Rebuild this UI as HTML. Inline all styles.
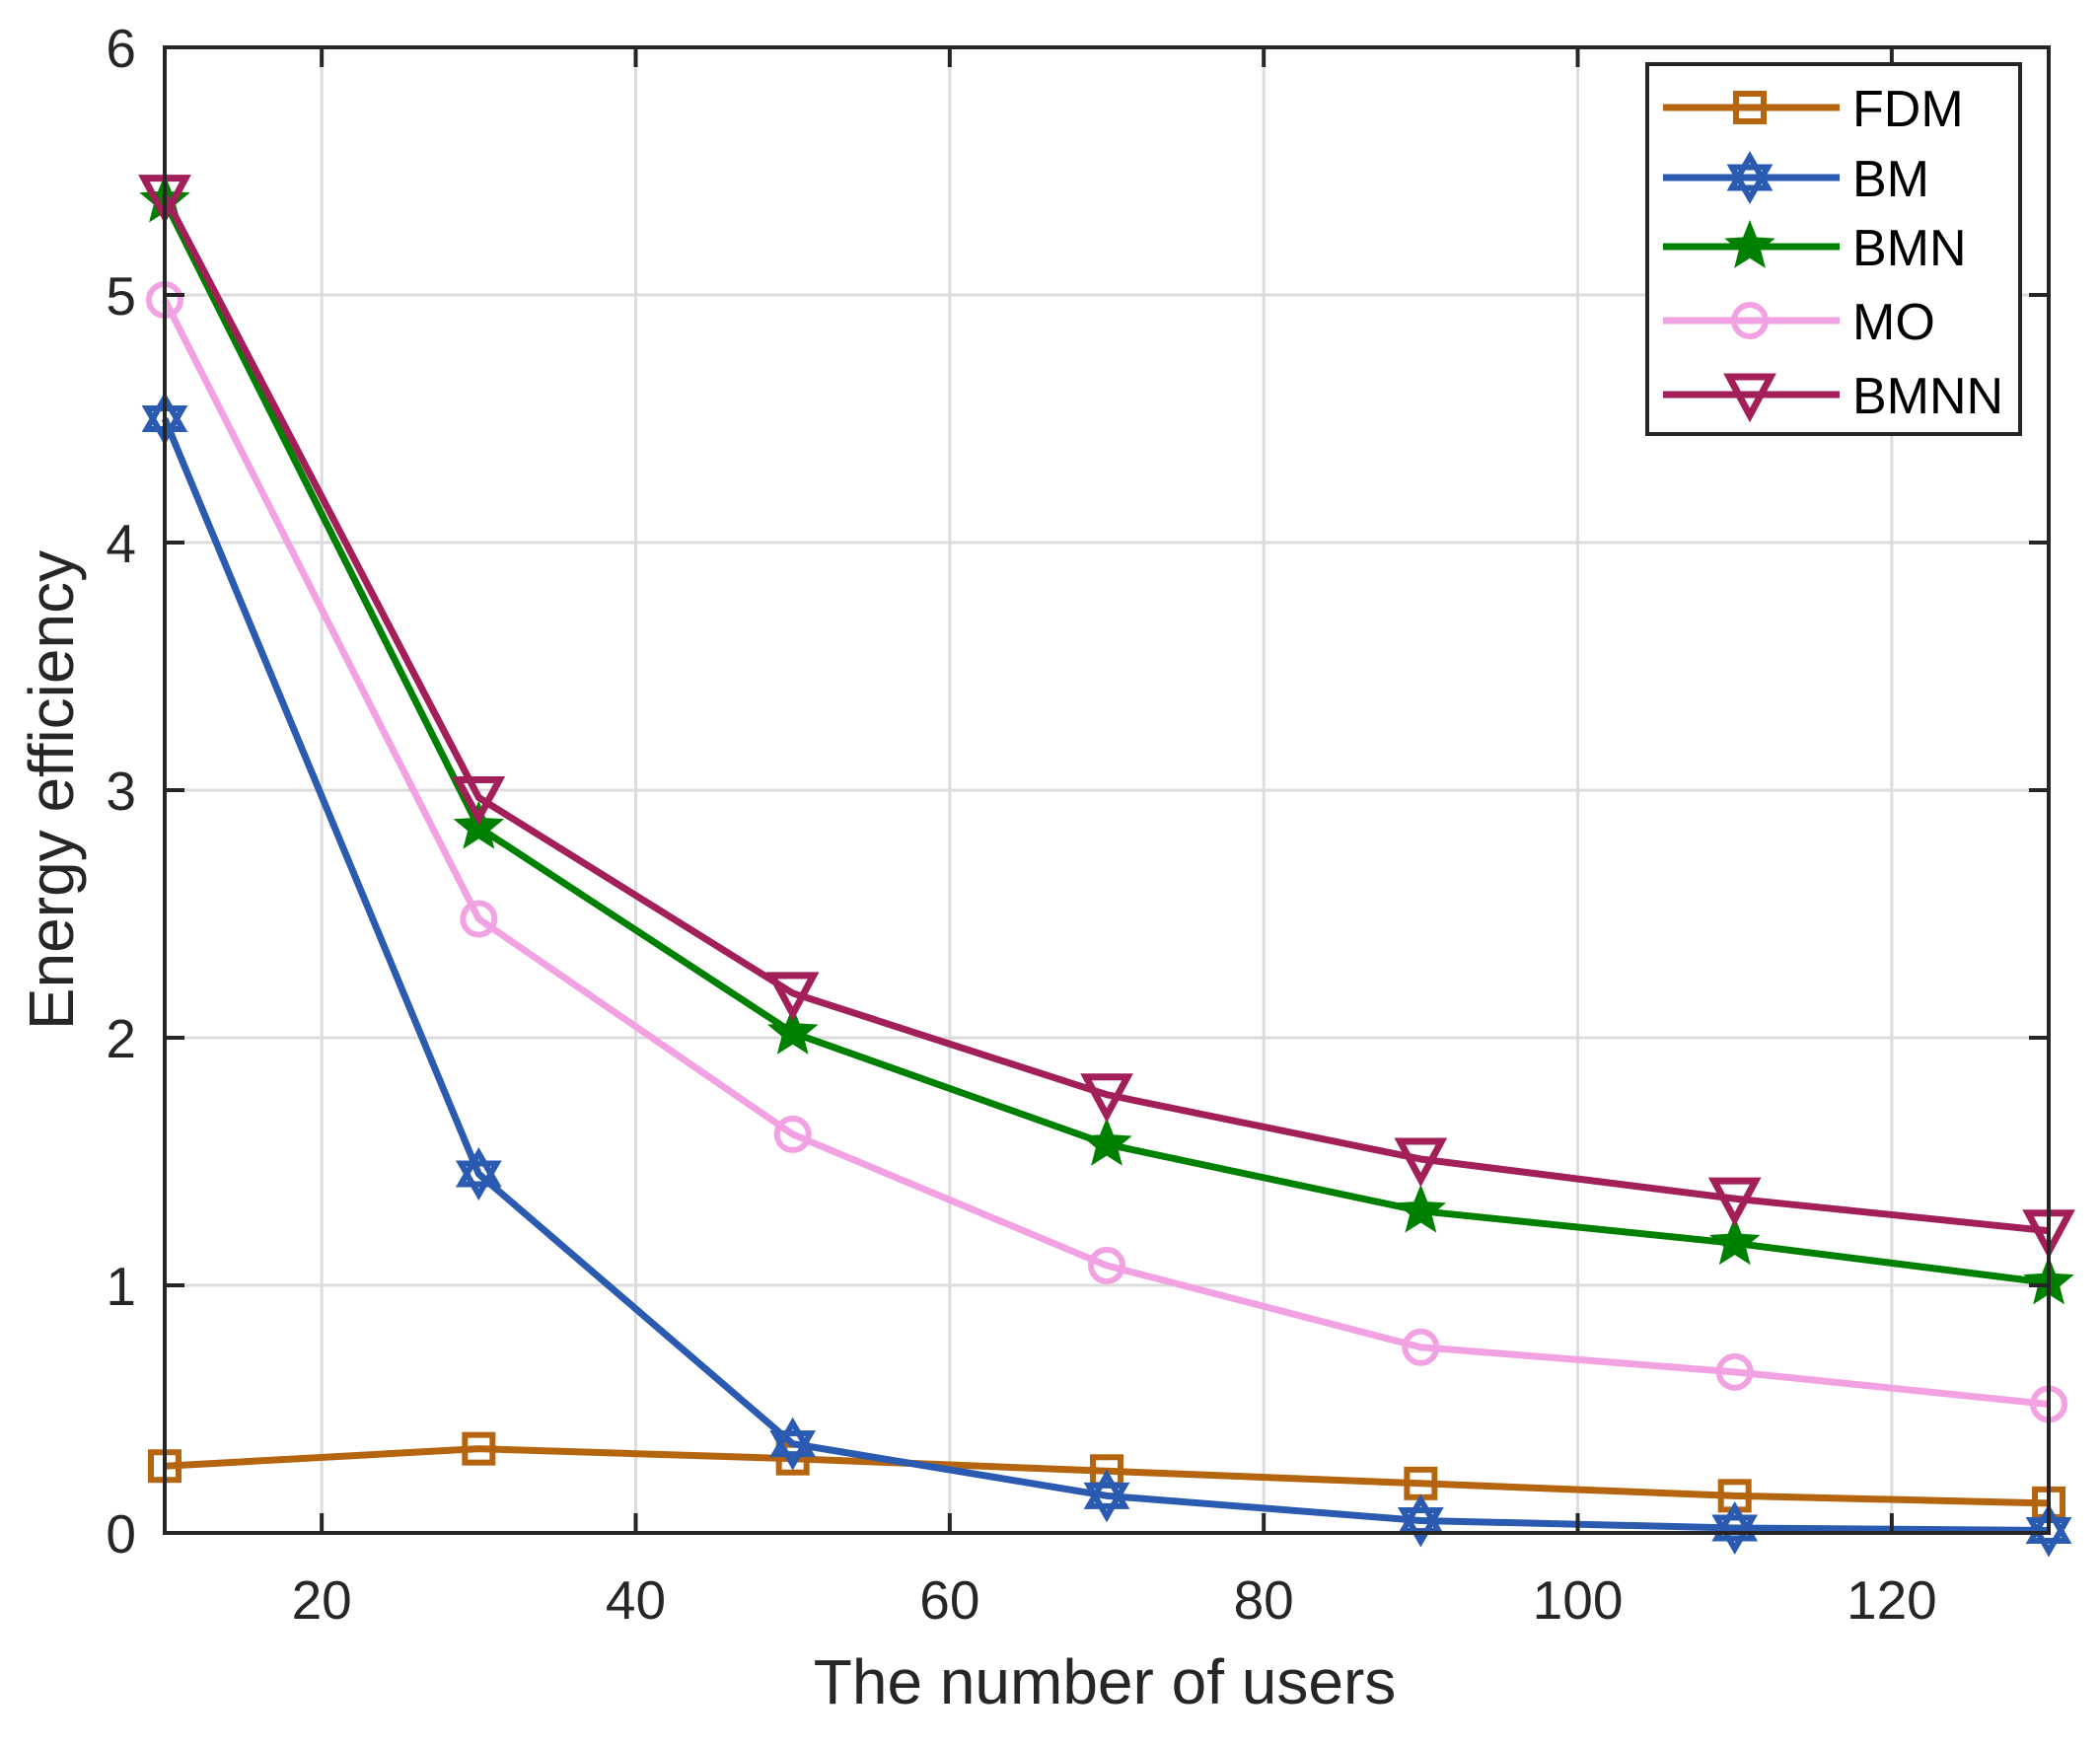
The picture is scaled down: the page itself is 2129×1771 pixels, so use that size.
<!DOCTYPE html>
<html><head><meta charset="utf-8"><style>html,body{margin:0;padding:0;background:#fff}</style></head>
<body>
<svg id="s" width="2129" height="1766" xmlns="http://www.w3.org/2000/svg" font-family="Liberation Sans, sans-serif">
<rect width="2129" height="1766" fill="#fff"/>
<g id="grid" stroke="#dcdcdc" stroke-width="3"></g>
<g id="series"></g>
<rect x="167" y="48" width="1910" height="1506" fill="none" stroke="#262626" stroke-width="4"/>
<g id="ticks" stroke="#262626" stroke-width="4"></g>
<g id="labels" fill="#262626" font-size="55"></g>
<text x="1120" y="1727" font-size="64" fill="#262626" text-anchor="middle">The number of users</text>
<text transform="translate(74,801) rotate(-90)" font-size="64" fill="#262626" text-anchor="middle">Energy efficiency</text>
<rect x="1670" y="65" width="378" height="375" fill="#fff" stroke="#262626" stroke-width="4"/>
<g id="legend" font-size="52" fill="#000"></g>
</svg>
<script>
const NS="http://www.w3.org/2000/svg";
function X(v){return 167+(v-10)*15.917}
function Y(v){return 1554-251*v}
function el(p,t,a,txt){const e=document.createElementNS(NS,t);for(const k in a)e.setAttribute(k,a[k]);if(txt!==undefined)e.textContent=txt;document.getElementById(p).appendChild(e);return e}
for(let v=20;v<=120;v+=20){el('grid','line',{x1:X(v),x2:X(v),y1:48,y2:1554});
 el('ticks','line',{x1:X(v),x2:X(v),y1:1554,y2:1534});el('ticks','line',{x1:X(v),x2:X(v),y1:48,y2:68});
 el('labels','text',{x:X(v),y:1641,'text-anchor':'middle'},String(v));}
for(let v=1;v<=5;v++){el('grid','line',{x1:167,x2:2077,y1:Y(v),y2:Y(v)});}
for(let v=0;v<=6;v++){el('ticks','line',{x1:167,x2:187,y1:Y(v),y2:Y(v)});el('ticks','line',{x1:2057,x2:2077,y1:Y(v),y2:Y(v)});
 el('labels','text',{x:138,y:Y(v)+20,'text-anchor':'end'},String(v));}
const xs=[10,30,50,70,90,110,130];
const S=[
 {n:'FDM',c:'#b5650f',m:'sq',d:[0.27,0.34,0.30,0.25,0.20,0.15,0.12]},
 {n:'BM',c:'#2a5bb0',m:'hex',d:[4.5,1.45,0.36,0.15,0.05,0.02,0.01]},
 {n:'BMN',c:'#008000',m:'star',d:[5.38,2.85,2.02,1.57,1.30,1.17,1.01]},
 {n:'MO',c:'#f2a2e2',m:'circ',d:[4.98,2.48,1.61,1.08,0.75,0.65,0.52]},
 {n:'BMNN',c:'#a21f5a',m:'tri',d:[5.4,2.97,2.18,1.77,1.51,1.35,1.22]}];
function marker(g,m,x,y,c){
 if(m==='sq')el(g,'rect',{x:x-14,y:y-14,width:28,height:28,fill:'none',stroke:c,'stroke-width':6});
 else if(m==='circ')el(g,'circle',{cx:x,cy:y,r:16,fill:'none',stroke:c,'stroke-width':6});
 else if(m==='tri')el(g,'polygon',{points:`${x-21},${y-18} ${x+21},${y-18} ${x},${y+21}`,fill:'none',stroke:c,'stroke-width':7});
 else if(m==='star'){let p=[];for(let i=0;i<10;i++){const r=i%2?10:23,a=-Math.PI/2+i*Math.PI/5;p.push((x+r*Math.cos(a)).toFixed(1)+','+(y+r*Math.sin(a)).toFixed(1))}el(g,'polygon',{points:p.join(' '),fill:c,stroke:c,'stroke-width':3});}
 else if(m==='hex'){let p=[],q=[];for(let i=0;i<3;i++){const a=-Math.PI/2+i*2*Math.PI/3;p.push((x+21*Math.cos(a))+','+(y+21*Math.sin(a)));const b=Math.PI/2+i*2*Math.PI/3;q.push((x+21*Math.cos(b))+','+(y+21*Math.sin(b)));}
  el(g,'polygon',{points:p.join(' '),fill:'none',stroke:c,'stroke-width':6});el(g,'polygon',{points:q.join(' '),fill:'none',stroke:c,'stroke-width':6});}
}
S.forEach((s,i)=>{
 el('series','polyline',{points:xs.map((x,j)=>X(x)+','+Y(s.d[j])).join(' '),fill:'none',stroke:s.c,'stroke-width':7,'stroke-linejoin':'round'});
 xs.forEach((x,j)=>marker('series',s.m,X(x),Y(s.d[j]),s.c));
 const ly=[109,180,250,325,400][i];
 el('legend','line',{x1:1686,x2:1865,y1:ly,y2:ly,stroke:s.c,'stroke-width':7});
 marker('legend',s.m,1774,ly,s.c);
 el('legend','text',{x:1878,y:ly+19},s.n);
});
</script>
</body></html>
